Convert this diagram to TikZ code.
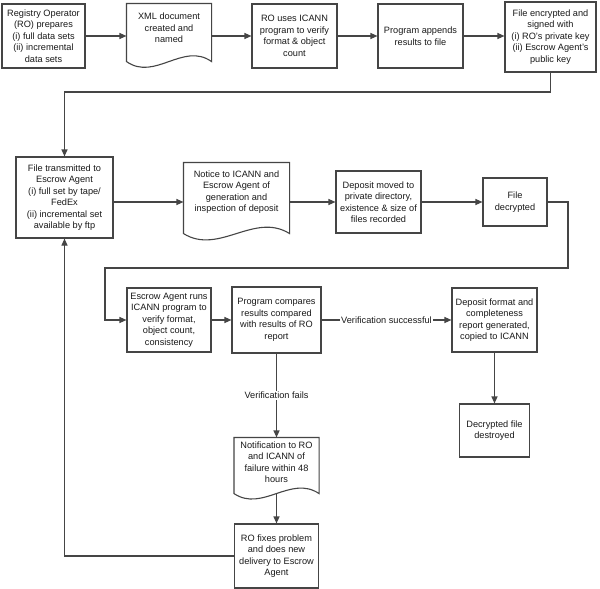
\documentclass[tikz,border=0pt]{standalone}
\usepackage{fontspec}
\setmainfont{Liberation Sans}
\usetikzlibrary{arrows.meta,calc}
\definecolor{lncol}{HTML}{454545}
\definecolor{txcol}{HTML}{1A1A1A}
\newcommand\docwave[3]{%
  \draw[conn] (#1.north west) -- ($(#1.south west)+(0pt,-#2pt)$)
    .. controls ($(#1.south west)!0.3333!(#1.south east)+(0pt,-#2pt-#3pt)$)
    and ($(#1.south west)!0.6667!(#1.south east)+(0pt,-#2pt+#3pt)$)
    .. ($(#1.south east)+(0pt,-#2pt)$) -- (#1.north east) -- cycle;}
\begin{document}
\begin{tikzpicture}[x=1pt,y=-1pt,
  box/.style={draw=lncol, line width=1.1pt, inner sep=0pt, align=center,
    font=\fontsize{9.2}{11.5}\selectfont, text=txcol},
  doc/.style={box, draw=none},
  conn/.style={draw=lncol, line width=1.1pt},
  arr/.style={conn, -{Triangle[length=7pt,width=6pt]}},
  lbl/.style={fill=white, inner sep=1.5pt, font=\fontsize{9.2}{11.5}\selectfont, text=txcol}]
\useasboundingbox[fill=white] (0,0) rectangle (600,589);

% top row
\node[box, minimum width=83pt, minimum height=64pt] (b1) at (43.5,36)
  {Registry Operator\\(RO) prepares\\(i) full data sets\\(ii) incremental\\data sets};
\node[doc, minimum width=84pt, minimum height=48pt] (xml) at (169,28)
  {XML document\\created and\\named};
\docwave{xml}{9}{20}
\node[box, minimum width=85pt, minimum height=64pt] (b3) at (294.5,36)
  {RO uses ICANN\\program to verify\\format \& object\\count};
\node[box, minimum width=85pt, minimum height=64pt] (b4) at (420.5,36)
  {Program appends\\results to file};
\node[box, minimum width=91pt, minimum height=70pt] (b5) at (550.5,37)
  {File encrypted and\\signed with\\(i) RO's private key\\(ii) Escrow Agent's\\public key};

% middle row
\node[box, minimum width=97pt, minimum height=81pt] (b6) at (64.5,197.5)
  {File transmitted to\\Escrow Agent\\(i) full set by tape/\\FedEx\\(ii) incremental set\\available by ftp};
\node[doc, minimum width=105pt, minimum height=58pt] (notice) at (236.5,192)
  {Notice to ICANN and\\Escrow Agent of\\generation and\\inspection of deposit};
\docwave{notice}{12}{22}
\node[box, minimum width=85pt, minimum height=62pt] (dep) at (378.5,202)
  {Deposit moved to\\private directory,\\existence \& size of\\files recorded};
\node[box, minimum width=64pt, minimum height=48pt] (fd) at (515,202)
  {File\\decrypted};

% third row
\node[box, minimum width=84pt, minimum height=64pt] (er) at (169,320)
  {Escrow Agent runs\\ICANN program to\\verify format,\\object count,\\consistency};
\node[box, minimum width=89pt, minimum height=66pt] (pc) at (276.5,320)
  {Program compares\\results compared\\with results of RO\\report};
\node[box, minimum width=85pt, minimum height=64pt] (df) at (494.5,320)
  {Deposit format and\\completeness\\report generated,\\copied to ICANN};
\node[box, minimum width=70pt, minimum height=53pt] (dd) at (494.5,430.5)
  {Decrypted file\\destroyed};
\node[doc, minimum width=84pt, minimum height=48pt] (notif) at (276.5,462)
  {Notification to RO\\and ICANN of\\failure within 48\\hours};
\docwave{notif}{7}{19}
\node[box, minimum width=84pt, minimum height=64pt] (ro) at (276.5,556)
  {RO fixes problem\\and does new\\delivery to Escrow\\Agent};

% helper coordinates
\coordinate (t1) at (552,92);
\coordinate (c1) at (568,268);
\coordinate (c2) at (105,268);

% connectors
\draw[arr] (b1.east) -- (b1.east -| xml.west);
\draw[arr] (xml.east |- b3.west) -- (b3.west);
\draw[arr] (b3.east) -- (b4.west);
\draw[arr] (b4.east) -- (b4.east -| b5.west);
\draw[arr] (b5.south) -- (b5.south |- t1) -| (b6.north);
\draw[arr] (b6.east |- dep.west) -- (notice.west |- dep.west);
\draw[arr] (notice.east |- dep.west) -- (dep.west);
\draw[arr] (dep.east) -- (fd.west);
\draw[arr] (fd.east) -| (c1) -- (c2) |- (er.west);
\draw[arr] (er.east) -- (pc.west);
\draw[arr] (pc.east) -- node[lbl]{Verification successful} (df.west);
\draw[arr] (df.south) -- (dd.north);
\draw[arr] (pc.south) -- node[lbl]{Verification fails} (notif.north);
\draw[arr] ($(notif.south)+(0pt,-7pt)$) -- (ro.north);
\draw[arr] (ro.west) -| (b6.south);
\end{tikzpicture}
\end{document}
